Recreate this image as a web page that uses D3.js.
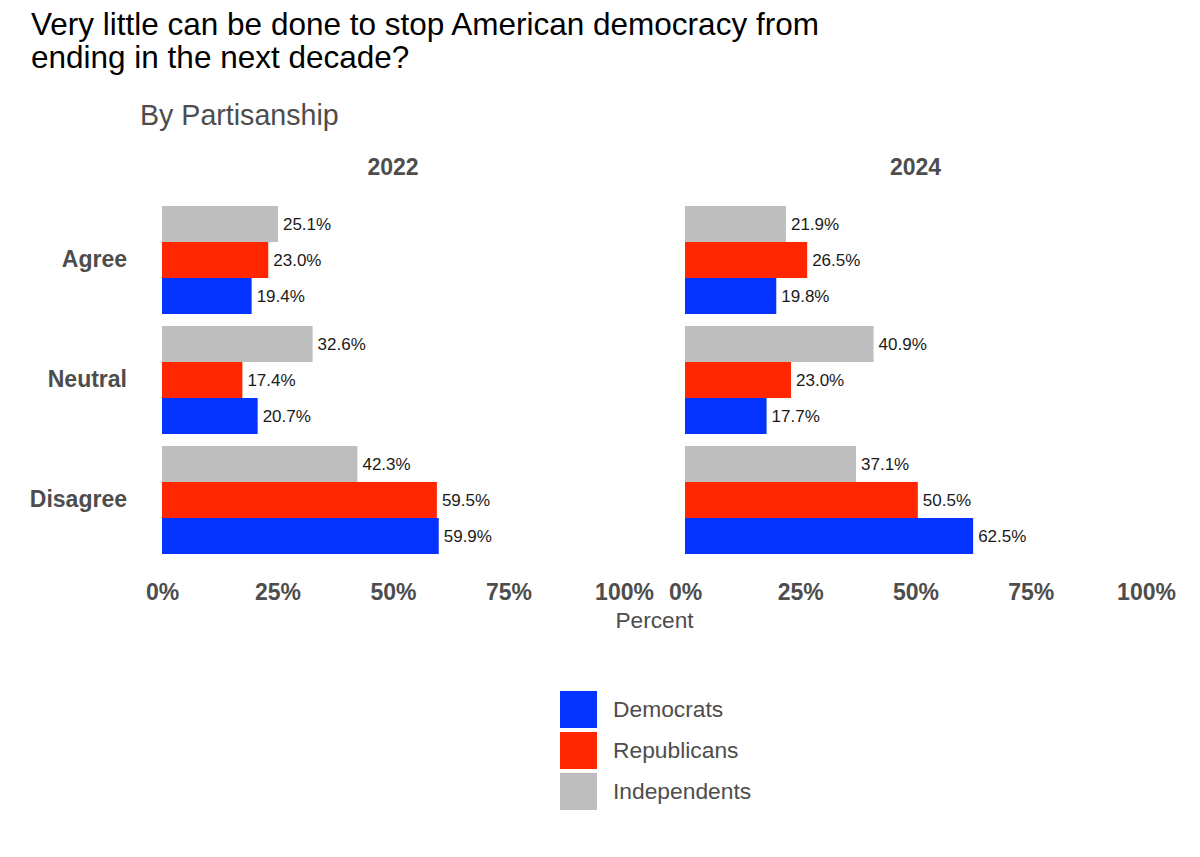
<!DOCTYPE html>
<html><head><meta charset="utf-8">
<script src="https://cdn.jsdelivr.net/npm/d3@7"></script>
<style>body{margin:0;background:#fff;} svg{display:block;font-family:"Liberation Sans",Arial,sans-serif;}</style>
</head><body>
<script>
const years = ["2022", "2024"];
const responses = ["Agree", "Neutral", "Disagree"];
const parties = ["Independents", "Republicans", "Democrats"];
const legendOrder = ["Democrats", "Republicans", "Independents"];
const colors = ["#BEBEBE", "#FF2600", "#0433FF"];
const xTicks = [0, 25, 50, 75, 100];
// values[year][response] = [Independents, Republicans, Democrats]
const values2022 = [[25.1, 23.0, 19.4], [32.6, 17.4, 20.7], [42.3, 59.5, 59.9]];
const values2024 = [[21.9, 26.5, 19.8], [40.9, 23.0, 17.7], [37.1, 50.5, 62.5]];
const yearValues = [values2022, values2024];

const W = 1200, H = 857;
const svg = d3.select("body").append("svg").attr("width", W).attr("height", H);
const color = d3.scaleOrdinal().domain(parties).range(colors);

svg.append("text").attr("x", 31).attr("y", 35).attr("font-size", 31.5).attr("fill", "#000")
  .text("Very little can be done to stop American democracy from");
svg.append("text").attr("x", 31).attr("y", 68).attr("font-size", 31.5).attr("fill", "#000")
  .text("ending in the next decade?");
svg.append("text").attr("x", 140).attr("y", 125).attr("font-size", 28.6).attr("fill", "#4D4D4D")
  .text("By Partisanship");

const y = d3.scaleBand().domain(responses).range([200, 560]).paddingInner(0.1).paddingOuter(0.05);
const ySub = d3.scaleBand().domain(parties).range([0, y.bandwidth()]);

const panelX = [[162, 624], [685, 1146]];

years.forEach((yr, i) => {
  const x = d3.scaleLinear().domain([0, 100]).range(panelX[i]);
  const g = svg.append("g");
  g.append("text").attr("x", (panelX[i][0] + panelX[i][1]) / 2).attr("y", 175)
    .attr("text-anchor", "middle").attr("font-size", 23).attr("font-weight", "bold").attr("fill", "#4D4D4D").text(yr);
  const rows = [];
  responses.forEach((r, ri) => parties.forEach((p, pi) => rows.push({r, p, v: yearValues[i][ri][pi]})));
  g.selectAll("rect").data(rows).join("rect")
    .attr("x", x(0)).attr("y", d => y(d.r) + ySub(d.p))
    .attr("width", d => x(d.v) - x(0)).attr("height", ySub.bandwidth())
    .attr("fill", d => color(d.p));
  g.selectAll("text.val").data(rows).join("text").attr("class", "val")
    .attr("x", d => x(d.v) + 5).attr("y", d => y(d.r) + ySub(d.p) + ySub.bandwidth() / 2)
    .attr("dy", "0.35em").attr("font-size", 17).attr("fill", "#1a1a1a")
    .text(d => d.v.toFixed(1) + "%");
  const ax = g.append("g").attr("transform", "translate(0,0)")
    .call(d3.axisBottom(x).tickValues(xTicks).tickFormat(d => d + "%").tickSize(0).tickPadding(0));
  ax.select(".domain").remove();
  ax.selectAll("text").attr("font-size", 23).attr("font-weight", "bold").attr("fill", "#4D4D4D")
    .attr("font-family", "Liberation Sans, Arial, sans-serif").attr("y", 600).attr("dy", 0);
  if (i === 0) {
    const ay = g.append("g").attr("transform", `translate(${x(0) - 35},0)`)
      .call(d3.axisLeft(y).tickSize(0).tickPadding(0));
    ay.select(".domain").remove();
    ay.selectAll("text").attr("font-size", 23).attr("font-weight", "bold").attr("fill", "#4D4D4D")
      .attr("font-family", "Liberation Sans, Arial, sans-serif");
  }
});

svg.append("text").attr("x", 654.5).attr("y", 628).attr("text-anchor", "middle")
  .attr("font-size", 22.7).attr("fill", "#4D4D4D").text("Percent");

const lg = svg.append("g");
legendOrder.forEach((p, k) => {
  lg.append("rect").attr("x", 560).attr("y", 691 + k * 41).attr("width", 37).attr("height", 37).attr("fill", color(p));
  lg.append("text").attr("x", 613).attr("y", 691 + k * 41 + 18.5).attr("dy", "0.35em")
    .attr("font-size", 22.8).attr("fill", "#4D4D4D").text(p);
});
</script>
</body></html>
